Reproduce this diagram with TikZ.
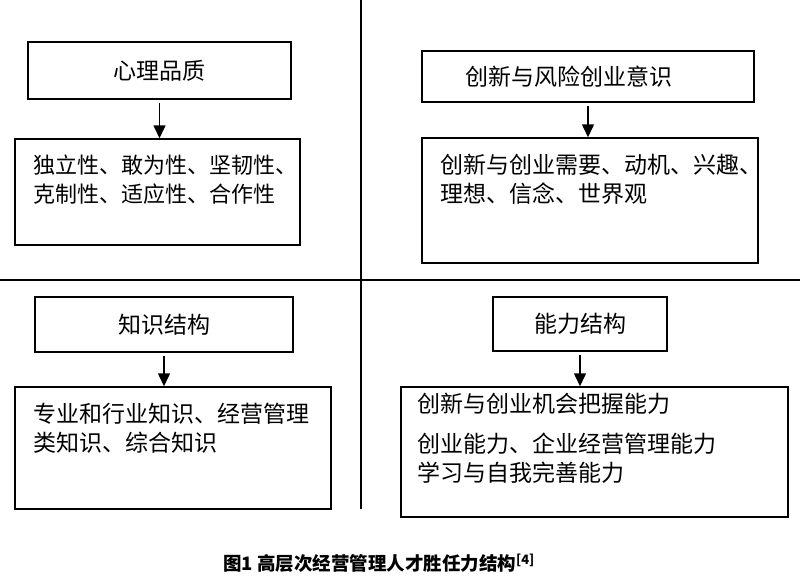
\documentclass[tikz,border=0pt]{standalone}
\usepackage{fontspec}
\setmainfont{Noto Sans CJK SC}
\usetikzlibrary{arrows.meta}
\tikzstyle{titlebox} = [rectangle, draw=black, line width=1.5pt, inner sep=0, font=\fontsize{23}{29}\selectfont]
\tikzstyle{titletext} = [inner sep=0, font=\fontsize{23}{29}\selectfont]
\tikzstyle{bodybox} = [rectangle, draw=black, line width=1.5pt, inner sep=0]
\tikzstyle{bodytext} = [anchor=base west, align=left, inner sep=0, font=\fontsize{23}{29}\selectfont]
\tikzstyle{arrow} = [line width=1.5pt, -{Triangle[width=12pt,length=13pt]}]
\tikzstyle{divider} = [line width=2pt]

\begin{document}
\begin{tikzpicture}[x=1pt,y=-1pt]
\useasboundingbox (0,0) rectangle (800,582);

% quadrant lines
\coordinate (vtop) at (361,0);
\coordinate (vbot) at (361,509);
\coordinate (hleft) at (0,280);
\coordinate (hright) at (800,280);
\draw[divider] (vtop) -- (vbot);
\draw[divider] (hleft) -- (hright);

% top left
\node[titlebox, minimum width=263pt, minimum height=57pt] (xinli) at (159.5,70.5) {心理品质};
\node[bodybox, minimum width=285pt, minimum height=106pt] (xinlibody) at (157.5,192) {};
\node[bodytext, font=\fontsize{22}{29}\selectfont] (xinlitext) at (33,202) {独立性、敢为性、坚韧性、\\克制性、适应性、合作性};
\draw[arrow] ([yshift=-3pt]xinli.south) -- (xinli.south |- xinlibody.north);

% top right
\node[titlebox, minimum width=332pt, minimum height=51pt] (yishi) at (588,76.5) {};
\node[titletext, anchor=west] (yishitext) at (465,76.5) {创新与风险创业意识};
\node[bodybox, minimum width=336pt, minimum height=125pt] (yishibody) at (590,200.5) {};
\node[bodytext] (yishilist) at (440,202) {创新与创业需要、动机、兴趣、\\理想、信念、世界观};
\draw[arrow] ([yshift=-3pt]yishi.south) -- (yishi.south |- yishibody.north);

% bottom left
\node[titlebox, minimum width=258pt, minimum height=55pt] (zhishi) at (164,324.5) {知识结构};
\node[bodybox, minimum width=316pt, minimum height=122pt] (zhishibody) at (173,448) {};
\node[bodytext] (zhishitext) at (33,451) {专业和行业知识、经营管理\\类知识、综合知识};
\draw[arrow] ([yshift=-3pt]zhishi.south) -- (zhishi.south |- zhishibody.north);

% bottom right
\node[titlebox, minimum width=174pt, minimum height=54pt] (nengli) at (580,324) {能力结构};
\node[bodybox, minimum width=387pt, minimum height=130pt] (nenglibody) at (594.5,452) {};
\node[bodytext] (nenglitext) at (417,481) {创新与创业机会把握能力\\[11pt]创业能力、企业经营管理能力\\学习与自我完善能力};
\draw[arrow] ([yshift=-3pt]nengli.south) -- (nengli.south |- nenglibody.north);

% caption
\node[font=\fontsize{18.5}{20}\selectfont\bfseries] (caption) at (379,563) {图1 高层次经营管理人才胜任力结构\textsuperscript{[4]}};
\end{tikzpicture}
\end{document}
